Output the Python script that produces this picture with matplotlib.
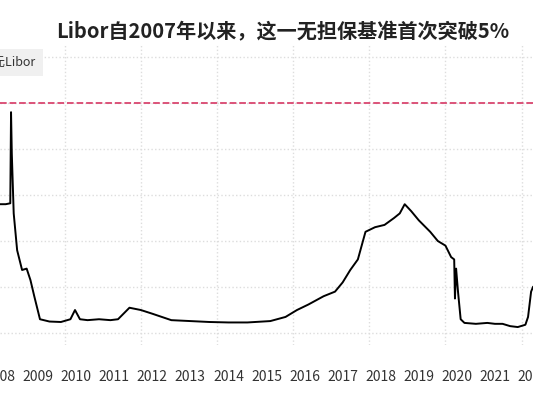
import numpy as np
import matplotlib.pyplot as plt

plt.rcParams['font.family'] = ['Noto Sans CJK SC', 'DejaVu Sans']

# 3个月美元Libor (%), 时间按图上位置估读
t = [2008.0, 2008.15, 2008.27, 2008.29, 2008.31, 2008.36, 2008.45, 2008.58, 2008.7, 2008.8,
     2008.9, 2009.05, 2009.3, 2009.6, 2009.85, 2009.97, 2010.1, 2010.3, 2010.6, 2010.9,
     2011.1, 2011.4, 2011.7, 2012.0, 2012.5, 2013.0, 2013.5, 2014.0, 2014.5, 2015.1,
     2015.5, 2015.8, 2016.1, 2016.5, 2016.8, 2017.0, 2017.2, 2017.4, 2017.6, 2017.85,
     2018.1, 2018.35, 2018.5, 2018.63, 2018.8, 2019.0, 2019.3, 2019.5, 2019.7, 2019.85,
     2019.93, 2019.95, 2019.98, 2020.0, 2020.03, 2020.1, 2020.2, 2020.5, 2020.8, 2021.0,
     2021.2, 2021.4, 2021.6, 2021.8, 2021.87, 2021.95, 2022.0]
v = [2.8, 2.8, 2.82, 4.8, 3.9, 2.6, 1.8, 1.37, 1.4, 1.15,
     0.8, 0.3, 0.25, 0.24, 0.3, 0.5, 0.3, 0.28, 0.3, 0.28,
     0.3, 0.55, 0.5, 0.42, 0.28, 0.26, 0.24, 0.23, 0.23, 0.26,
     0.35, 0.5, 0.62, 0.8, 0.9, 1.1, 1.37, 1.6, 2.2, 2.3,
     2.35, 2.5, 2.6, 2.8, 2.65, 2.45, 2.2, 2.0, 1.9, 1.65,
     1.6, 0.75, 1.4, 1.2, 0.9, 0.3, 0.22, 0.2, 0.22, 0.2,
     0.2, 0.15, 0.13, 0.18, 0.35, 0.9, 1.0]
years = list(range(2008, 2023))
threshold = 5.0

fig = plt.figure(figsize=(5.33, 4), dpi=100)
x0 = 2008.0
xr = 2008.0 + 533 / 38.1
ax = fig.add_axes([0, 0.1375, 1, 0.75])
ax.set_xlim(x0, xr)
ax.set_ylim(-0.26, 6.26)
ax.plot(t, v, color='black', lw=1.4)
ax.axhline(threshold, color='#d9466f', lw=1.3, ls='--')

for s in ax.spines.values():
    s.set_visible(False)
ax.set_yticks(range(0, 7))
ax.set_yticklabels([])
ax.set_xticks(years)
ax.set_xticklabels([str(y) for y in years], fontsize=10, color='#333333')
ax.tick_params(length=0, pad=18)
ax.grid(axis='y', color='#dddddd', ls=':', lw=1)
for g in np.arange(2009.7 - 2 * 5, 2023, 2):
    ax.axvline(g, color='#dddddd', ls=':', lw=1, zorder=0)

fig.text(0.53, 0.92, 'Libor自2007年以来，这一无担保基准首次突破5%',
         ha='center', va='center', fontsize=14.5, fontweight='bold', color='#222222')
fig.text(36 / 533, 1 - 62 / 400, '3个月美元Libor', ha='right', va='center', fontsize=9,
         color='#333333', bbox=dict(facecolor='#f0f0f0', edgecolor='none', pad=5))

fig.savefig('out.png', dpi=100)
